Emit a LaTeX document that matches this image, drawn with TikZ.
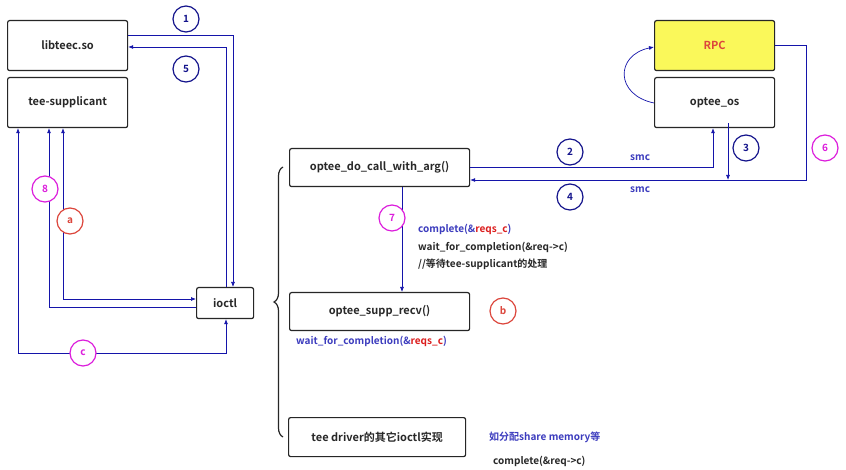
\documentclass[tikz,border=0pt]{standalone}
\usepackage{fontspec}
\setmainfont{Noto Sans CJK SC}[BoldFont={Noto Sans CJK SC Bold}]
\usetikzlibrary{arrows.meta,decorations.pathreplacing}
\definecolor{ln}{RGB}{20,20,170}
\definecolor{nv}{RGB}{20,20,140}
\definecolor{mg}{RGB}{220,30,220}
\definecolor{rd}{RGB}{220,70,60}
\definecolor{tb}{RGB}{60,60,190}
\definecolor{tr}{RGB}{220,30,30}
\definecolor{tk}{RGB}{40,40,40}
\begin{document}
\begin{tikzpicture}[x=1pt,y=-1pt,
 box/.style={draw=black!85,line width=1.2pt,rounded corners=2pt,fill=white,font=\bfseries\fontsize{11}{13}\selectfont,text=tk},
 con/.style={draw=ln,line width=0.7pt},
 arr/.style={-{Latex[length=5pt,width=4pt]}},
 num/.style={circle,draw=#1,line width=1.2pt,minimum size=26pt,inner sep=0pt,fill=white,text=#1,font=\bfseries\fontsize{10}{11}\selectfont},
 lb/.style={anchor=west,font=\bfseries\fontsize{10}{12}\selectfont,text=tb,inner sep=0pt},
 lk/.style={anchor=west,font=\bfseries\fontsize{10}{12}\selectfont,text=tk,inner sep=0pt}]
\useasboundingbox (0,0) rectangle (846,470);
\fill[white] (0,0) rectangle (846,470);
% boxes
\path (7,20) node[box,minimum width=120pt,minimum height=50pt,anchor=north west] (lib) {libteec.so};
\path (7,77) node[box,minimum width=120pt,minimum height=50pt,anchor=north west] (sup) {tee-supplicant};
\path (196,287) node[box,minimum width=57pt,minimum height=31pt,anchor=north west] (io) {ioctl};
\path (289,148) node[box,minimum width=180pt,minimum height=38pt,anchor=north west] (call) {optee\_do\_call\_with\_arg()};
\path (289,292) node[box,minimum width=180pt,minimum height=38pt,anchor=north west] (recv) {optee\_supp\_recv()};
\path (288,417) node[box,minimum width=177pt,minimum height=39pt,anchor=north west] (oth) {tee driver的其它ioctl实现};
\path (654,20) node[box,fill={rgb,255:red,250;green,248;blue,90},text=rd,minimum width=120pt,minimum height=50pt,anchor=north west] (rpc) {RPC};
\path (654,77) node[box,minimum width=120pt,minimum height=50pt,anchor=north west] (os) {optee\_os};
% coordinates
\coordinate (p1) at (233,35); \coordinate (p5) at (226,47);
\coordinate (pa) at (63,299); \coordinate (p8) at (49,307);
\coordinate (pc1) at (18,353); \coordinate (pc2) at (226,353);
\coordinate (p2) at (713,167); \coordinate (p4) at (806,180);
\coordinate (p3) at (728,180); \coordinate (p6) at (806,45);
% connectors
\draw[con,arr] (lib.east|-p1) -- (p1) -- (io.north-|p1);
\draw[con,arr] (io.north-|p5) -- (p5) -- (lib.east|-p5);
\draw[con,{Latex[length=5pt,width=4pt]}-{Latex[length=5pt,width=4pt]}] (sup.south-|pa) -- (pa) -- (io.west|-pa);
\draw[con,arr] (io.west|-p8) -- (p8) -- (sup.south-|p8);
\draw[con,{Latex[length=5pt,width=4pt]}-{Latex[length=5pt,width=4pt]}] (sup.south-|pc1) -- (pc1) -- (pc2) -- (io.south-|pc2);
\draw[con,arr] (call.east|-p2) -- (p2) -- (os.south-|p2);
\draw[con,arr] (rpc.east|-p6) -- (p6) -- (p4) -- (call.east|-p4);
\draw[con,arr] ([yshift=5pt]os.south-|p3) -- (p3);
\draw[con,arr] (os.west|-0,103) .. controls (615,95) and (615,55) .. (rpc.west|-0,47);
\draw[con,arr] (call.south-|402,0) -- (recv.north-|402,0);
% brace
\draw[line width=1.2pt,black!85,decorate,decoration={brace,amplitude=9pt}] (283,437) -- (283,167);
% circles
\node[num=nv] (n1) at (186,19) {1};
\node[num=nv] (n5) at (186,69) {5};
\node[num=mg] (n8) at (45,189) {8};
\node[num=rd] (na) at (70,221) {a};
\node[num=mg] (nc) at (83,353) {c};
\node[num=nv] (n2) at (570,152) {2};
\node[num=nv] (n4) at (570,197) {4};
\node[num=nv] (n3) at (746,148) {3};
\node[num=mg] (n6) at (825,148) {6};
\node[num=mg] (n7) at (392,218) {7};
\node[num=rd] (nb) at (503,311) {b};
% labels
\node[lb] (s1) at (630,158) {smc};
\node[lb] (s2) at (630,190) {smc};
\node[lb] (t1) at (418,229) {complete(\&\textcolor{tr}{reqs\_c})};
\node[lk] (t2) at (418,247) {wait\_for\_completion(\&req->c)};
\node[lk] (t3) at (418,264) {//等待tee-supplicant的处理};
\node[lb] (t4) at (296,341) {wait\_for\_completion(\&\textcolor{tr}{reqs\_c})};
\node[lb] (t5) at (489,437) {如分配share memory等};
\node[lk] (t6) at (493,461) {complete(\&req->c)};
\end{tikzpicture}
\end{document}
